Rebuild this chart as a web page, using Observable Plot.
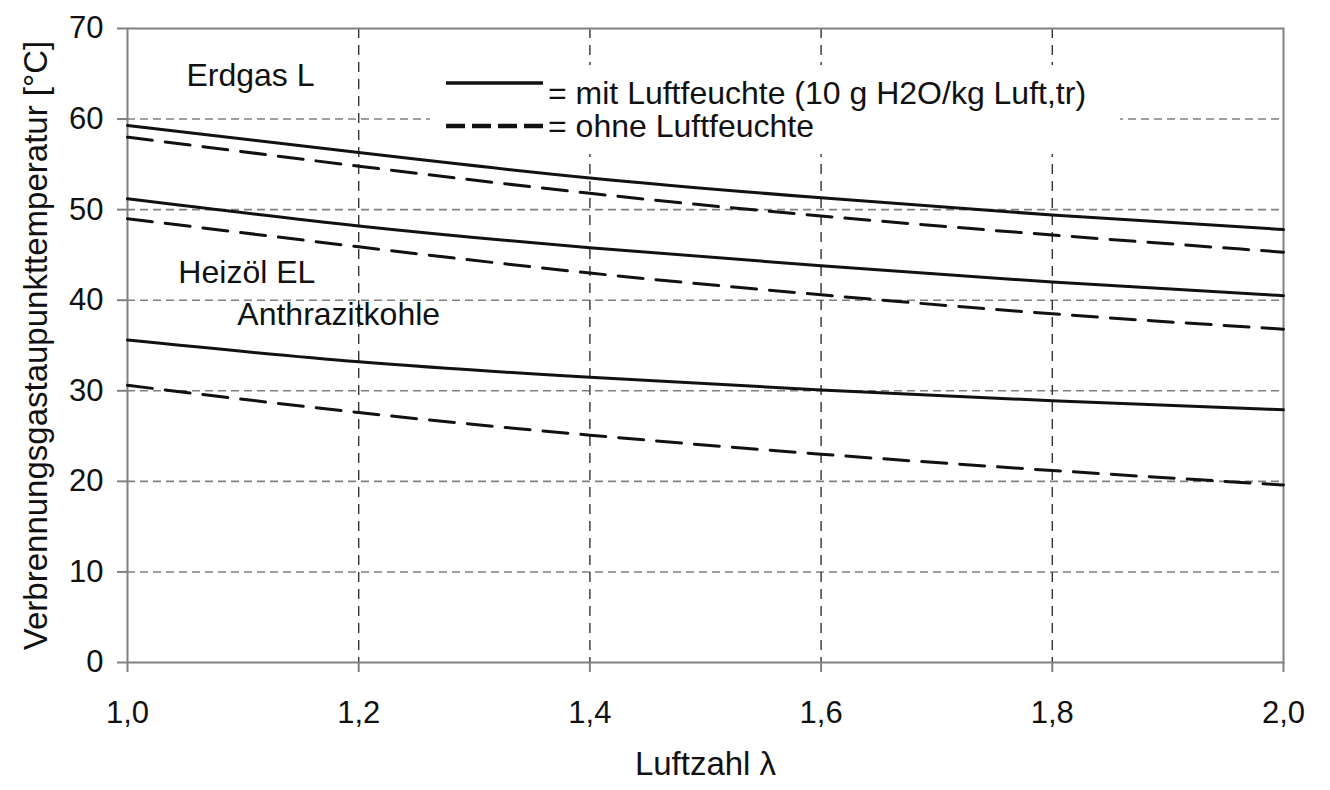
<!DOCTYPE html>
<html>
<head>
<meta charset="utf-8">
<script src="https://cdn.jsdelivr.net/npm/d3@7"></script>
<script src="https://cdn.jsdelivr.net/npm/@observablehq/plot@0.6"></script>
<style>
  html, body { margin: 0; padding: 0; background: #fff; }
  #chart svg { display: block; }
</style>
</head>
<body>
<div id="chart"></div>
<script>
// ---- data ----
const lambda = [1.0, 1.2, 1.4, 1.6, 1.8, 2.0];
const erdgasMit   = [59.3, 56.3, 53.5, 51.3, 49.4, 47.8];
const erdgasOhne  = [58.0, 54.8, 51.8, 49.3, 47.2, 45.3];
const heizoelMit  = [51.2, 48.2, 45.8, 43.8, 42.0, 40.5];
const heizoelOhne = [49.0, 45.9, 43.0, 40.6, 38.5, 36.8];
const anthrazitMit  = [35.6, 33.2, 31.5, 30.1, 28.9, 27.9];
const anthrazitOhne = [30.6, 27.6, 25.1, 23.0, 21.2, 19.6];

const xTicks = [1.0, 1.2, 1.4, 1.6, 1.8, 2.0];
const yTicks = [0, 10, 20, 30, 40, 50, 60, 70];

const fuelLabels = ["Erdgas L", "Heizöl EL", "Anthrazitkohle"];
const legendLabels = ["= mit Luftfeuchte (10 g H2O/kg Luft,tr)", "= ohne Luftfeuchte"];
const xTitle = "Luftzahl λ";
const yTitle = "Verbrennungsgastaupunkttemperatur [°C]";

// ---- build tables ----
function series(name, values) {
  return values.map((v, i) => ({series: name, x: lambda[i], y: v}));
}
const withHumidity = [
  ...series("Erdgas L", erdgasMit),
  ...series("Heizöl EL", heizoelMit),
  ...series("Anthrazitkohle", anthrazitMit)
];
const withoutHumidity = [
  ...series("Erdgas L", erdgasOhne),
  ...series("Heizöl EL", heizoelOhne),
  ...series("Anthrazitkohle", anthrazitOhne)
];

// label anchor points (data units) for the fuel names
const labelAnchors = [
  {text: fuelLabels[0], x: 1.051, y: 63.6},
  {text: fuelLabels[1], x: 1.044, y: 41.9},
  {text: fuelLabels[2], x: 1.095, y: 37.3}
];

const fmt = d => d3.format(".1f")(d).replace(".", ",");
const FONT = "'Liberation Sans', Arial, Helvetica, sans-serif";

// legend drawn as a custom render mark (pixel layout)
function legendMark(index, scales, values, dimensions) {
  const g = d3.create("svg:g");
  g.append("rect")
    .attr("x", 430).attr("y", 65).attr("width", 690).attr("height", 89)
    .attr("fill", "white");
  g.append("line")
    .attr("x1", 446).attr("x2", 543).attr("y1", 83).attr("y2", 83)
    .attr("stroke", "#111").attr("stroke-width", 3.5);
  g.append("line")
    .attr("x1", 446).attr("x2", 543).attr("y1", 126).attr("y2", 126)
    .attr("stroke", "#111").attr("stroke-width", 4.5)
    .attr("stroke-dasharray", "19,7");
  g.append("text")
    .attr("x", 548).attr("y", 104).attr("text-anchor", "start")
    .attr("font-size", 32).attr("font-family", FONT).attr("fill", "#111")
    .text(legendLabels[0]);
  g.append("text")
    .attr("x", 548).attr("y", 137).attr("text-anchor", "start")
    .attr("font-size", 32).attr("font-family", FONT).attr("fill", "#111")
    .text(legendLabels[1]);
  return g.node();
}

const chart = Plot.plot({
  width: 1330,
  height: 790,
  marginLeft: 127,
  marginRight: 47,
  marginTop: 28,
  marginBottom: 128,
  style: {fontFamily: FONT, background: "white", color: "#111"},
  x: {domain: [1, 2]},
  y: {domain: [0, 70]},
  marks: [
    Plot.gridY(yTicks.filter(d => d > 0 && d < 70), {
      stroke: "#808080", strokeOpacity: 1, strokeWidth: 1.6, strokeDasharray: "8,5"
    }),
    Plot.gridX(xTicks.filter(d => d > 1 && d < 2), {
      stroke: "#333", strokeOpacity: 1, strokeWidth: 1.4, strokeDasharray: "10,7"
    }),
    legendMark,
    Plot.frame({stroke: "#808080", strokeWidth: 2}),
    Plot.line(withHumidity, {
      x: "x", y: "y", z: "series", curve: "natural",
      stroke: "#111", strokeWidth: 3
    }),
    Plot.line(withoutHumidity, {
      x: "x", y: "y", z: "series", curve: "natural",
      stroke: "#111", strokeWidth: 3, strokeDasharray: "25,13"
    }),
    Plot.text(labelAnchors, {
      x: "x", y: "y", text: "text", textAnchor: "start", lineAnchor: "bottom",
      fontSize: 32, fill: "#111"
    }),
    Plot.axisY({
      ticks: yTicks, tickSize: 10, tickPadding: 14, fontSize: 31,
      stroke: "#808080", strokeWidth: 2, label: null, tickFormat: d => String(d)
    }),
    Plot.axisX({
      ticks: xTicks, tickSize: 10, tickPadding: 28, fontSize: 31,
      stroke: "#808080", strokeWidth: 2, label: null, tickFormat: fmt
    }),
    Plot.text([yTitle], {
      frameAnchor: "left", dx: -91, rotate: -90, text: d => d,
      fontSize: 33, textAnchor: "middle", lineAnchor: "middle", fill: "#111"
    }),
    Plot.text([xTitle], {
      frameAnchor: "bottom", dy: 102, text: d => d,
      fontSize: 33, textAnchor: "middle", lineAnchor: "middle", fill: "#111"
    })
  ]
});

document.getElementById("chart").appendChild(chart);
</script>
</body>
</html>
